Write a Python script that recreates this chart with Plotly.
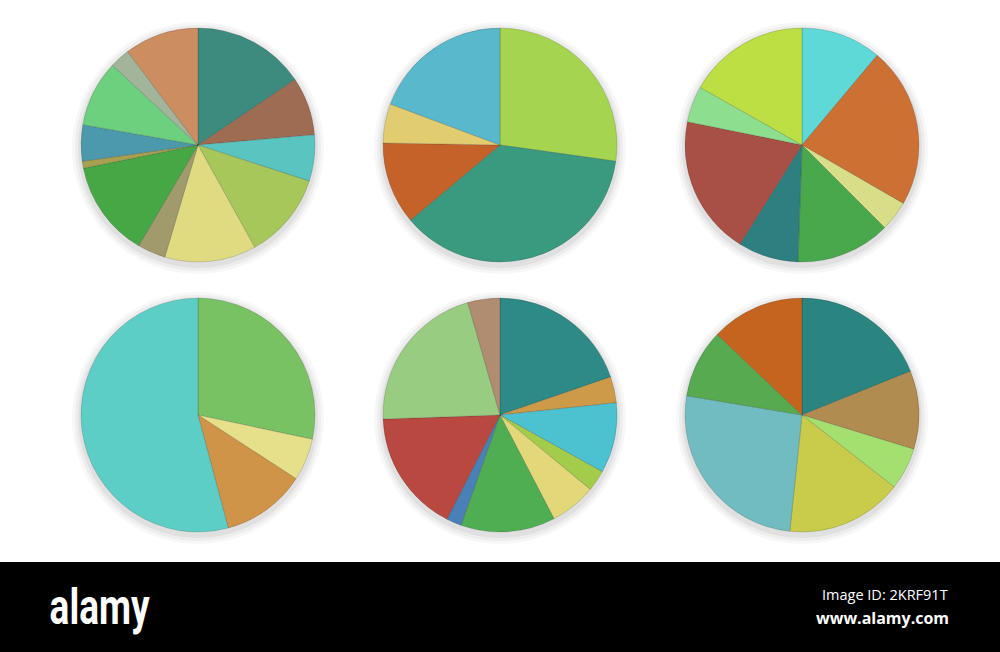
import plotly.graph_objects as go

# slice sizes (degrees of arc, clockwise from 12 o'clock)
pie1_values = [56, 29, 23, 43, 45.5, 14, 48, 3.5, 18, 33, 10, 37]
pie1_colors = ["#3d8a7e", "#9e6b53", "#5ac5c0", "#a8c75a", "#e0da80", "#a09a6c",
               "#45a845", "#a8a050", "#4c99ab", "#6dd07e", "#a2b49a", "#cc8e60"]

pie2_values = [98, 132, 41, 19.5, 69.5]
pie2_colors = ["#a5d54f", "#3a9a80", "#c4622a", "#e2cc70", "#58b8cc"]

pie3_values = [40, 80, 15, 47, 30, 69.5, 18, 60.5]
pie3_colors = ["#5fd8d8", "#cc7033", "#d8de88", "#4aa84c", "#2e7f80",
               "#a85046", "#8ede90", "#bce044"]

pie4_values = [102, 21, 42, 195]
pie4_colors = ["#78c264", "#e6e08a", "#d09448", "#5ccec6"]

pie5_values = [71, 13, 35, 10.5, 23, 47, 7.5, 61, 76, 16]
pie5_colors = ["#2e8a86", "#cc9a48", "#4cc2d0", "#a2cc4a", "#e2d87a",
               "#4fae52", "#4a80b8", "#b84840", "#98cc80", "#b08c70"]

pie6_values = [68, 39, 21, 58, 93.5, 34, 46.5]
pie6_colors = ["#2a8580", "#b08c50", "#a4e070", "#c8cc4a", "#70bcc0",
               "#58aa50", "#c4641e"]

pies = [
    (pie1_values, pie1_colors, 198, 145),
    (pie2_values, pie2_colors, 500, 145),
    (pie3_values, pie3_colors, 802, 145),
    (pie4_values, pie4_colors, 198, 415),
    (pie5_values, pie5_colors, 500, 415),
    (pie6_values, pie6_colors, 802, 415),
]

W, H = 1000, 652
R = 117

fig = go.Figure()
shapes = []
for vals, cols, cx, cy in pies:
    labels = [chr(65 + i) for i in range(len(vals))]
    fig.add_trace(go.Pie(
        values=vals, labels=labels, sort=False, direction="clockwise", rotation=0,
        marker=dict(colors=cols, line=dict(color="rgba(0,0,0,0.14)", width=1)),
        textinfo="none", hoverinfo="none", showlegend=False,
        domain=dict(x=[(cx - R) / W, (cx + R) / W], y=[1 - (cy + R) / H, 1 - (cy - R) / H]),
    ))
    # soft drop shadow
    for k, op in [(9, 0.03), (6, 0.04), (3, 0.05)]:
        shapes.append(dict(
            type="circle", xref="paper", yref="paper", layer="below",
            x0=(cx - R - k) / W, x1=(cx + R + k) / W,
            y0=1 - (cy + R + k + 3) / H, y1=1 - (cy - R - k + 3) / H,
            fillcolor="rgba(0,0,0,%s)" % op, line=dict(width=0),
        ))

# black banner at the bottom
shapes.append(dict(type="rect", xref="paper", yref="paper", layer="above",
                   x0=0, x1=1, y0=0, y1=1 - 562 / H, fillcolor="black", line=dict(width=0)))

fig.update_layout(
    width=W, height=H,
    margin=dict(l=0, r=0, t=0, b=0),
    paper_bgcolor="white", plot_bgcolor="white",
    shapes=shapes,
    annotations=[
        dict(text="<b>alamy</b>", x=100 / W, y=1 - 607 / H, xref="paper", yref="paper",
             xanchor="center", yanchor="middle", showarrow=False,
             font=dict(family="Roboto, DejaVu Sans, sans-serif", size=50, color="white")),
        dict(text="Image ID: 2KRF91T", x=950 / W, y=1 - 594 / H, xref="paper", yref="paper",
             xanchor="right", yanchor="middle", showarrow=False,
             font=dict(family="Open Sans", size=14.5, color="white")),
        dict(text="<b>www.alamy.com</b>", x=951 / W, y=1 - 618 / H, xref="paper", yref="paper",
             xanchor="right", yanchor="middle", showarrow=False,
             font=dict(family="Open Sans", size=16, color="white")),
    ],
)

# squeeze the logo word into a condensed width
post = """
document.body.style.margin='0';
document.querySelectorAll('text.annotation-text').forEach(function(t){
  if (t.textContent === 'alamy') {
    t.setAttribute('textLength', '100');
    t.setAttribute('lengthAdjust', 'spacingAndGlyphs');
  }
});
"""

fig.write_html("out.html", config={"displayModeBar": False}, post_script=post)
